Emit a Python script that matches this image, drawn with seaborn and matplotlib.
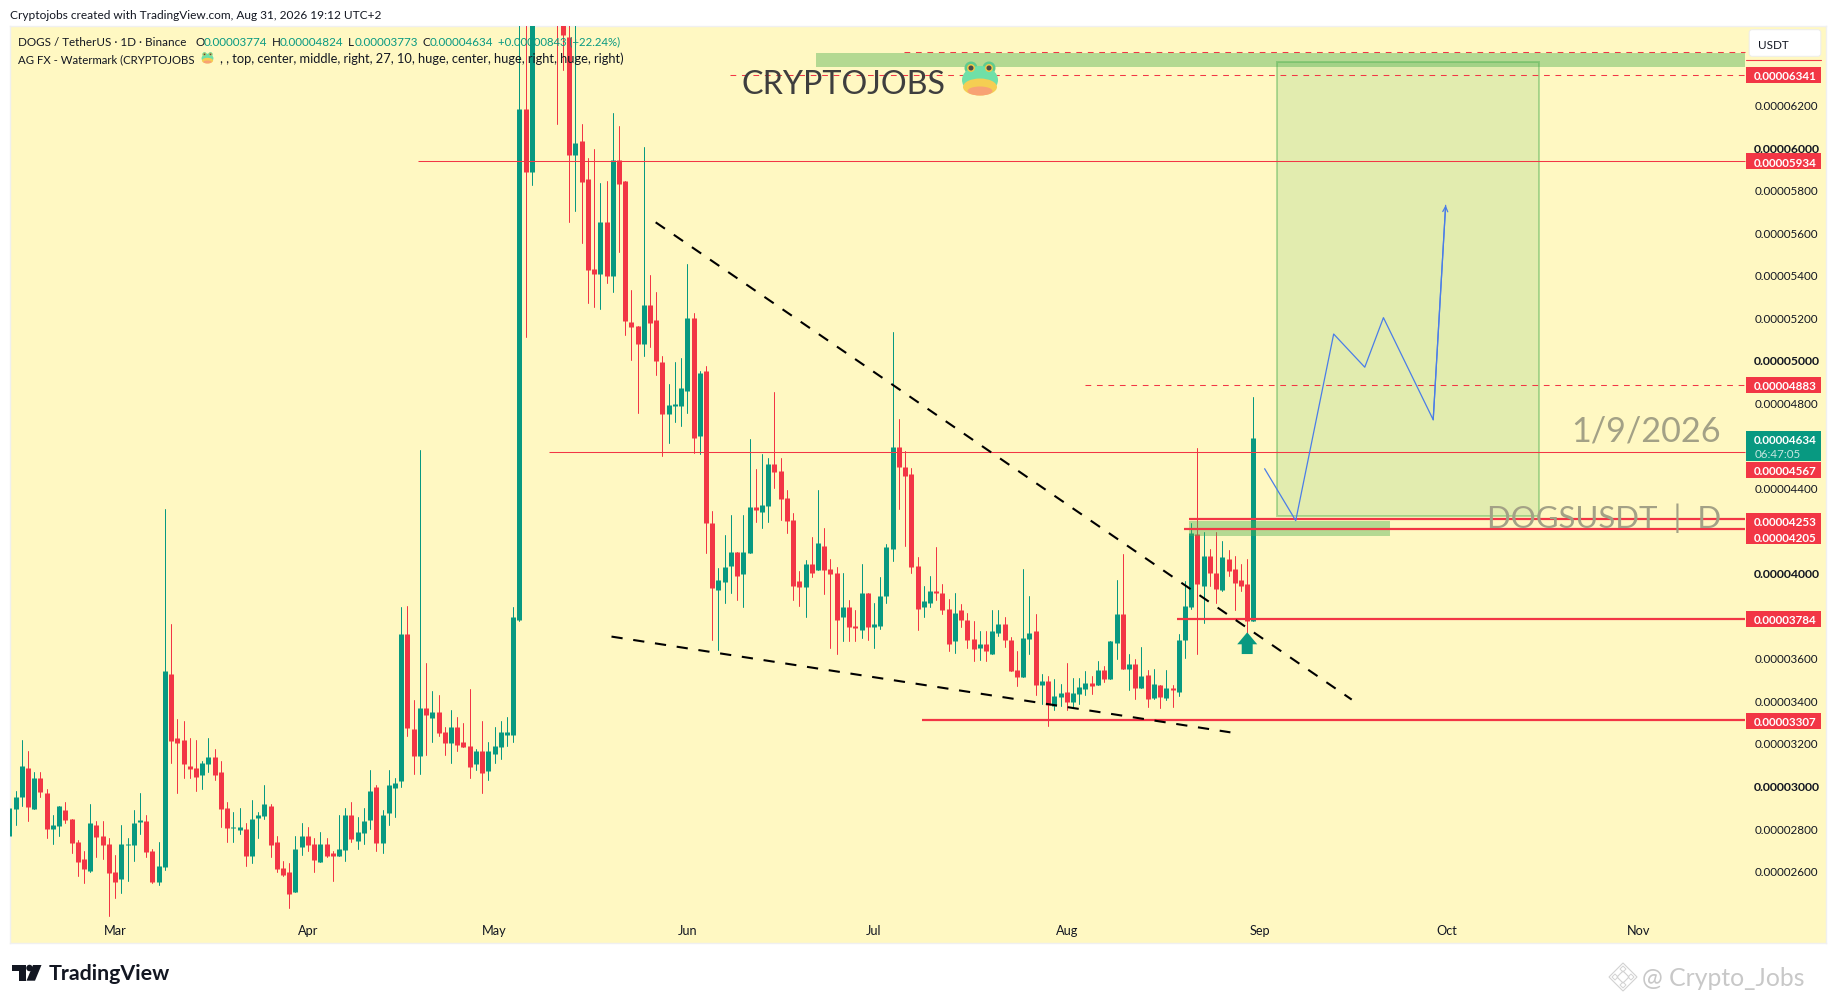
import matplotlib
matplotlib.use("Agg")
import matplotlib.pyplot as plt
import seaborn as sns
import pandas as pd
import numpy as np
from matplotlib.patches import Rectangle, Ellipse, Polygon, FancyBboxPatch
from matplotlib.transforms import IdentityTransform

# Daily candles, prices in units of 0.00000001 USDT, first candle is 12 Feb (index -1)
open_prices = [
    2761,2892,2944,3084,2892,3037,2966,2794,2812,2886, 2844,2736,2656,2599,2816,2764,2726,2594,2561,2720,
    2721,2829,2834,2693,2547,2618,3526,3225,3216,3093, 3084,3051,3103,3136,3065,2895,2800,2792,2797,2670,
    2848,2858,2905,2736,2613,2594,2500,2712,2764,2726, 2641,2726,2684,2670,2698,2863,2740,2778,2839,2994,
    2731,2872,2990,3023,3714,3267,3140,3366,3319,3347, 3253,3201,3277,3206,3187,3103,3164,3070,3150,3183,
    3239,3239,3780,6180,5885,7400,7100,7300,7000,6700, 6519,5964,6030,5851,5427,5403,5650,5394,5939,5842,
    5178,5159,5074,5257,5187,4989,4745,4784,4782,4853, 5196,4641,4947,4236,3921,3956,4034,4096,3992,4091,
    4307,4284,4312,4510,4477,4350,4246,3959,3931,4039, 4011,4128,4016,3997,3790,3841,3748,3733,3903,3747,
    3752,3889,4114,4590,4496,4463,4034,3841,3860,3912, 3903,3832,3677,3823,3780,3691,3648,3667,3620,3719,
    3757,3686,3545,3512,3691,3724,3474,3493,3376,3418, 3441,3394,3432,3456,3484,3474,3545,3503,3672,3808,
    3550,3573,3460,3521,3413,3474,3413,3460,3441,3686, 3837,4180,3940,4077,4001,3917,4067,4016,3964,3945,3774,
]
high_prices = [
    2894,2976,3216,3164,3065,3065,2985,2863,2905,2924, 2844,2745,2693,2914,2834,2834,2754,2674,2816,2754,
    2886,2966,2863,2703,2736,4298,3757,3314,3305,3225, 3216,3117,3225,3173,3117,2924,2877,2895,2825,2933,
    2877,3004,2914,2764,2646,2637,2764,2825,2806,2754, 2783,2754,2693,2863,2895,2924,2853,2895,3074,3004,
    2886,3074,3037,3837,3846,3404,4576,3578,3446,3427, 3277,3357,3324,3296,3456,3173,3305,3206,3277,3305,
    3324,3837,6650,6650,7000,7500,7400,7350,7100,6800, 6650,6650,6110,5948,5992,5832,5842,6160,6099,5842,
    5328,5159,6002,5399,5319,5018,4886,4989,5008,5450, 5220,4947,4970,4288,4024,4176,4270,4096,4270,4627,
    4486,4557,4538,4849,4538,4387,4279,4006,4058,4166, 4387,4209,4067,4025,3997,3874,3823,4039,3903,3860,
    3978,4133,5131,4721,4571,4491,4072,3936,3983,4119, 3945,3879,3907,3851,3813,3771,3724,3724,3823,3827,
    3794,3700,3630,4016,3889,3804,3526,3517,3503,3479, 3578,3507,3507,3540,3517,3587,3564,3681,3968,4086,
    3620,3597,3653,3545,3550,3474,3545,3474,3714,3959, 4235,4585,4190,4114,4190,4147,4105,4081,4039,4063,4824,
]
low_prices = [
    2761,2816,2905,2834,2892,2947,2754,2726,2764,2825, 2684,2575,2543,2594,2665,2656,2387,2472,2495,2552,
    2646,2773,2665,2543,2533,2604,3107,2966,3037,3037, 2976,2985,3065,3027,2806,2736,2736,2773,2623,2637,
    2754,2844,2665,2594,2575,2425,2500,2674,2693,2594, 2641,2665,2552,2670,2646,2736,2703,2726,2797,2693,
    2684,2816,2853,2994,3234,3056,3056,3145,3206,3234, 3145,3107,3164,3183,3037,3074,2966,3027,3107,3126,
    3187,3206,3775,5109,5820,6900,6800,6800,6110,6361, 5650,5702,5551,5269,5250,5240,5363,5320,5509,5116,
    4999,4749,5017,5060,4928,4547,4608,4707,4688,4749, 4564,4556,4095,3686,3635,3856,3903,3874,3837,4091,
    4237,4209,4237,4397,4246,4185,3874,3846,3794,3978, 4011,3898,3648,3616,3681,3681,3681,3695,3686,3648,
    3738,3856,4053,4298,4124,3997,3733,3794,3841,3870, 3804,3634,3625,3747,3648,3587,3592,3587,3620,3705,
    3653,3536,3470,3512,3616,3427,3385,3281,3357,3376, 3357,3366,3385,3427,3432,3474,3488,3503,3597,3550,
    3451,3408,3460,3371,3408,3366,3404,3371,3423,3601, 3832,3616,3766,3936,3856,3912,3987,3823,3912,3717,3773,
]
close_prices = [
    2894,2947,3093,2900,3037,2971,2794,2816,2905,2839, 2732,2643,2608,2825,2759,2721,2590,2547,2726,2727,
    2825,2836,2688,2547,2623,3536,3211,3201,3103,3079, 3041,3107,3136,3051,2891,2801,2807,2806,2670,2844,
    2863,2914,2721,2608,2580,2491,2703,2764,2721,2651, 2726,2670,2670,2703,2863,2750,2783,2834,2976,2731,
    2863,3004,3013,3714,3272,3140,3366,3333,3347,3248, 3201,3277,3192,3183,3088,3164,3060,3164,3187,3253,
    3253,3794,6180,5885,6900,7100,7300,7050,6700,6529, 5964,6020,5838,5422,5403,5650,5394,5939,5829,5182,
    5154,5074,5257,5173,4994,4745,4787,4791,4867,5196, 4632,4938,4232,3930,3968,4025,4096,3983,4096,4307,
    4293,4317,4510,4472,4345,4241,3940,3931,4039,4001, 4138,4011,3992,3780,3841,3743,3742,3903,3743,3757,
    3893,4119,4590,4496,4453,4025,3832,3865,3912,3903, 3827,3667,3813,3776,3686,3644,3667,3630,3724,3757,
    3686,3540,3512,3695,3719,3474,3493,3380,3423,3437, 3394,3437,3465,3484,3470,3545,3503,3677,3804,3550,
    3573,3460,3517,3408,3479,3418,3460,3451,3686,3846, 4185,3945,4081,3997,3926,4072,4006,3950,3940,3774,4634,
]

# Axis ticks
month_labels = ["Mar", "Apr", "May", "Jun", "Jul", "Aug", "Sep", "Oct", "Nov"]
month_days = [16, 47, 77, 108, 138, 169, 200, 230, 261]
price_ticks = [6200, 6000, 5800, 5600, 5400, 5200, 5000, 4800, 4400, 4000, 3600, 3400, 3200, 3000, 2800, 2600]
bold_ticks = [6000, 5000, 4000, 3000]

# Horizontal levels drawn on the chart
level_prices = [6341, 5934, 4883, 4567, 4253, 4205, 3784, 3307]
level_starts = [114.9, 64.7, 172, 85.8, 188.6, 187.8, 186.7, 145.7]
level_dashed = [True, False, True, False, False, False, False, False]
level_thick = [False, False, False, False, True, True, True, True]
label_prices = [6341, 5934, 4883, 4484, 4245, 4170, 3784, 3304]
top_dash_price = 6446
top_dash_start = 142.8

# Drawn zones and target box
band_top = [128.7, 278, 6378, 6443]
band_low = [188.7, 220.9, 4172, 4241]
long_box = [202.8, 244.9, 4268, 6399]

# Trend lines and projected path
trend_days = [102.9, 214.8, 95.8, 195.3]
trend_prices = [5647, 3404, 3700, 3250]
trend_ids = ["upper", "upper", "lower", "lower"]
path_days = [200.8, 205.8, 211.9, 216.9, 219.9, 227.9, 229.9]
path_prices = [4489, 4245, 5122, 4966, 5199, 4719, 5727]

GREEN = "#089981"
RED = "#F23645"
PANEL = "#FFF8C2"
INK = "#131722"
SCALE = 1e-8
W, H = 1835, 1004


def px(x, y):
    return x / W, 1 - y / H


sns.set_theme(style="white")
plt.rcParams["font.family"] = ["Lato", "DejaVu Sans"]

fig = plt.figure(figsize=(W / 100, H / 100), dpi=100, facecolor="white")
ax = fig.add_axes([9.8 / W, 1 - 944 / H, (1825.7 - 9.8) / W, (944 - 26.7) / H], facecolor=PANEL)

candles = pd.DataFrame({
    "day": np.arange(-1, len(open_prices) - 1),
    "open": open_prices, "high": high_prices, "low": low_prices, "close": close_prices,
})
candles["dir"] = np.where(candles["close"] >= candles["open"], "up", "down")
palette = {"up": GREEN, "down": RED}

wicks = candles.melt(id_vars=["day", "dir"], value_vars=["high", "low"], value_name="price")
bodies = candles.melt(id_vars=["day", "dir"], value_vars=["open", "close"], value_name="price")
wicks["price"] *= SCALE
bodies["price"] *= SCALE

sns.lineplot(data=wicks, x="day", y="price", hue="dir", units="day", estimator=None, palette=palette,
             linewidth=0.72, legend=False, ax=ax, zorder=3)
sns.lineplot(data=bodies, x="day", y="price", hue="dir", units="day", estimator=None, palette=palette,
             linewidth=3.6, solid_capstyle="butt", legend=False, ax=ax, zorder=3)

# Zones
for x0, x1, p0, p1 in [band_top, band_low]:
    ax.add_patch(Rectangle((x0, p0 * SCALE), x1 - x0, (p1 - p0) * SCALE, fc="#4CAF50", alpha=0.42, ec="none", zorder=3.5))
x0, x1, p0, p1 = long_box
ax.add_patch(Rectangle((x0, p0 * SCALE), x1 - x0, (p1 - p0) * SCALE, fc="#4CAF50", alpha=0.16, ec="none", zorder=2))
ax.add_patch(Rectangle((x0, p0 * SCALE), x1 - x0, (p1 - p0) * SCALE, fc="none", ec="#4CAF50", alpha=0.42, lw=1.44, zorder=2))

# Levels
AXIS_X0 = 278
for price, start, dashed, thick in zip(level_prices, level_starts, level_dashed, level_thick):
    ax.plot([start, AXIS_X0], [price * SCALE] * 2, color=RED, lw=1.6 if thick else 0.75,
            linestyle=(0, (5.5, 5.5)) if dashed else "-", zorder=4, solid_capstyle="butt")
ax.plot([top_dash_start, AXIS_X0], [top_dash_price * SCALE] * 2, color=RED, lw=0.75, linestyle=(0, (5.5, 5.5)), zorder=4)
ax.plot([278.2, 290.3], [6408 * SCALE] * 2, color=RED, lw=0.8, zorder=4)

# Trend lines
trend = pd.DataFrame({"day": trend_days, "price": np.array(trend_prices) * SCALE, "line": trend_ids})
sns.lineplot(data=trend, x="day", y="price", units="line", estimator=None, sort=False, color="black",
             linewidth=1.5, linestyle=(0, (5.4, 5.15)), legend=False, ax=ax, zorder=4)

# Projected path with arrow head
path = pd.DataFrame({"day": path_days, "price": np.array(path_prices) * SCALE})
sns.lineplot(data=path, x="day", y="price", estimator=None, sort=False, color="#4A7DE8", linewidth=0.9, ax=ax, zorder=5)
ax.annotate("", xy=(path_days[-1], path_prices[-1] * SCALE), xytext=(path_days[-2], path_prices[-2] * SCALE),
            arrowprops=dict(arrowstyle="->", color="#4A7DE8", lw=0.9, mutation_scale=9, shrinkA=0, shrinkB=0), zorder=5)

# Green entry arrow
ax.annotate("", xy=(198, 3720 * SCALE), xytext=(198, 3618 * SCALE),
            arrowprops=dict(facecolor=GREEN, edgecolor="none", width=7.9, headwidth=14.4, headlength=8.6, shrink=0), zorder=5)

# Watermarks
fig.text(*px(741, 93.5), "CRYPTOJOBS", fontsize=23.2, color="#3E3E3E", ha="left", va="baseline", zorder=1)
fig.text(*px(1721, 441.7), "1/9/2026", fontsize=24.6, color="#A3A186", ha="right", va="baseline", zorder=1)
fig.text(*px(1721, 528.3), "DOGSUSDT  |  D", fontsize=22.4, color="#A3A186", ha="right", va="baseline", zorder=1)

# Axis
ax.set_xlim(-0.93, 291.0)
ax.set_ylim(2260 * SCALE, 6571 * SCALE)
ax.set_xlabel("")
ax.set_ylabel("")
ax.yaxis.tick_right()
ax.set_yticks([t * SCALE for t in price_ticks], [f"{t * SCALE:.8f}" for t in price_ticks])
ax.set_xticks(month_days, month_labels)
ax.tick_params(axis="y", length=0, pad=-51.5, labelsize=8.4, labelcolor=INK)
ax.tick_params(axis="x", length=0, pad=-14, labelsize=9.2, labelcolor=INK)
for tick, label in zip(price_ticks, ax.get_yticklabels()):
    label.set_zorder(6)
    if tick in bold_ticks:
        label.set_fontweight("bold")
        label.set_fontsize(8.8)
for spine in ax.spines.values():
    spine.set_color("#F0F0F0")
    spine.set_linewidth(1)

# Price labels on the axis strip
BOX_X0, BOX_X1, TEXT_X = 278.2, 290.3, 279.5
for level, shown in zip(level_prices, label_prices):
    ax.add_patch(Rectangle((BOX_X0, (shown - 37) * SCALE), BOX_X1 - BOX_X0, 74 * SCALE, fc=RED, ec="none", zorder=6))
    ax.text(TEXT_X, shown * SCALE, f"{level * SCALE:.8f}", color="white", fontsize=8.4, fontweight="bold",
            va="center_baseline", ha="left", zorder=7)
ax.add_patch(Rectangle((BOX_X0, 4527 * SCALE), BOX_X1 - BOX_X0, 141 * SCALE, fc=GREEN, ec="none", zorder=6))
ax.text(TEXT_X, 4632 * SCALE, "0.00004634", color="white", fontsize=8.4, fontweight="bold", va="center_baseline", zorder=7)
ax.text(TEXT_X, 4566 * SCALE, "06:47:05", color="#C4E6DF", fontsize=8.4, va="center_baseline", zorder=7)


def add_px(artist):
    fig.add_artist(artist)


def frog(cx, cy, s):
    t = IdentityTransform()
    def e(dx, dy, w, h, c):
        add_px(Ellipse((cx + dx * s, H - (cy + dy * s)), w * s, h * s, fc=c, ec="none", transform=t, zorder=9))
    e(-9, -11, 13, 13, "#5FCB8E")
    e(9, -11, 13, 13, "#5FCB8E")
    e(0, 1, 36, 28, "#6FE0A8")
    e(0, 8, 34, 17, "#F5CE52")
    e(0, 12, 25, 9, "#F8A273")
    e(-9, -11, 8, 8, "#EFC94A")
    e(9, -11, 8, 8, "#EFC94A")
    e(-9, -11, 5, 5, "#4A4A4A")
    e(9, -11, 5, 5, "#4A4A4A")


frog(980, 80, 1.0)
frog(207.5, 59, 0.33)

# USDT selector
add_px(FancyBboxPatch((1751, H - 55.5), 68, 23, boxstyle="round,pad=1.8,rounding_size=3", fc="white", ec="#EDEDED",
                      lw=0.7, transform=IdentityTransform(), zorder=8))
fig.text(*px(1758, 49), "USDT", fontsize=8.4, color=INK, zorder=9)

# Header and legend text
fig.text(*px(10, 19), "Cryptojobs created with TradingView.com, Aug 31, 2026 19:12 UTC+2", fontsize=8.6, color=INK)
legend_y = 45.5
fig.text(*px(18, legend_y), "DOGS / TetherUS · 1D · Binance", fontsize=8.4, color=INK, zorder=9)
for x, letter, value_x, value in [(195.5, "O", 204, "0.00003774"), (271.4, "H", 280, "0.00004824"),
                                  (348, "L", 354.5, "0.00003773"), (422, "C", 430, "0.00004634")]:
    fig.text(*px(x, legend_y), letter, fontsize=8.4, color=INK, zorder=9)
    fig.text(*px(value_x, legend_y), value, fontsize=8.4, color=GREEN, zorder=9)
fig.text(*px(498, legend_y), "+0.00000843 (+22.24%)", fontsize=8.2, color=GREEN, zorder=9)
fig.text(*px(18, 63), "AG FX - Watermark (CRYPTOJOBS", fontsize=8.2, color=INK, zorder=9)
fig.text(*px(220, 63), ", , top, center, middle, right, 27, 10, huge, center, huge, right, huge, right)",
         fontsize=9.3, color=INK, zorder=9)

# TradingView logo and footer
t = IdentityTransform()
add_px(Polygon([(12, H - 966), (25.5, H - 966), (25.5, H - 981.7), (18.5, H - 981.7), (18.5, H - 972), (12, H - 972)],
               fc=INK, ec="none", transform=t))
add_px(Ellipse((29.5, H - 969), 6.5, 6.5, fc=INK, ec="none", transform=t))
add_px(Polygon([(33, H - 966), (41.5, H - 966), (35, H - 981.7), (26.5, H - 981.7)], fc=INK, ec="none", transform=t))
fig.text(*px(49, 980.5), "TradingView", fontsize=15.4, fontweight="bold", color=INK)

# Repost watermark
for dx, dy, r, lw in [(0, 0, 14, 0.8), (0, 0, 6, 0.8), (-8, 0, 3, 0.7), (8, 0, 3, 0.7), (0, -8, 3, 0.7), (0, 8, 3, 0.7)]:
    cx, cy = 1623 + dx, H - 978 + dy
    add_px(Polygon([(cx - r, cy), (cx, cy + r), (cx + r, cy), (cx, cy - r)], fc="none", ec="#D2D2D2", lw=lw, transform=t))
fig.text(*px(1641.5, 986), "@ Crypto_Jobs", fontsize=17.8, color="#C8C8C8")

plt.savefig("out.png", dpi=100)
